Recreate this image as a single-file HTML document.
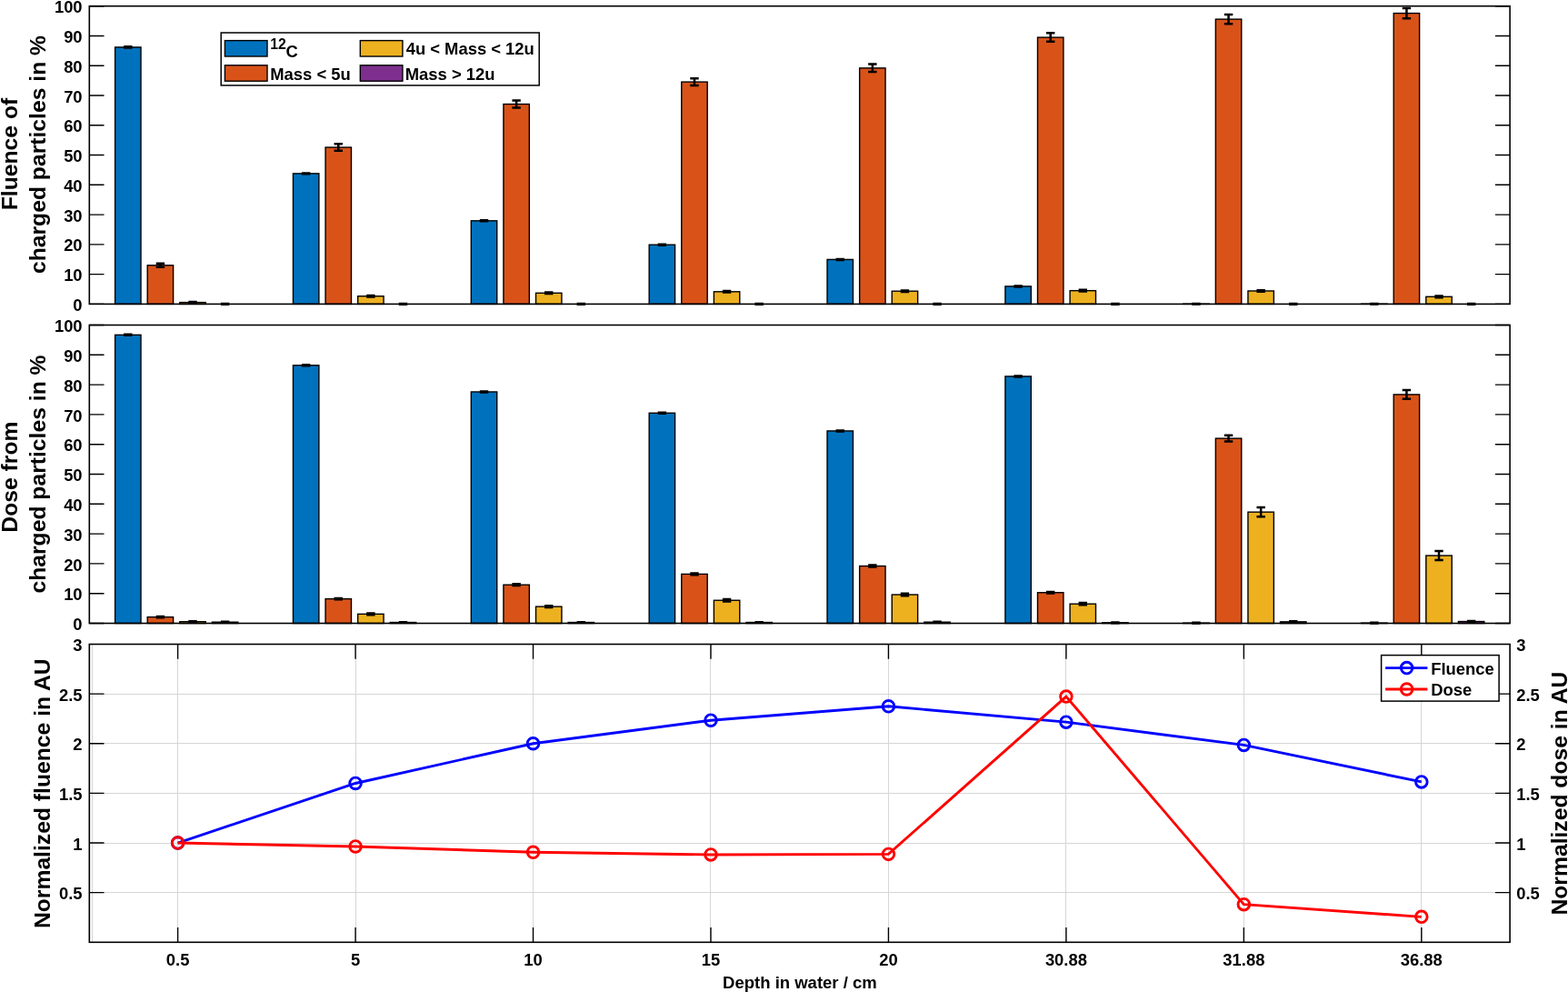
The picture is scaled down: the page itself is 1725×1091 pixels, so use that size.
<!DOCTYPE html>
<html><head><meta charset="utf-8"><title>Charged particle fluence and dose</title>
<style>html,body{margin:0;padding:0;background:#fff}svg{display:block}</style></head>
<body>
<svg width="1725" height="1091" viewBox="0 0 1725 1091">
<style>text{font-family:"Liberation Sans", Arial, Helvetica, sans-serif;font-weight:bold;fill:#000} .t{font-size:18.4px} .l{font-size:24.7px}</style>
<rect width="1725" height="1091" fill="#fff"/>
<rect x="126.60" y="51.92" width="28.40" height="282.48" fill="#0072BD" stroke="#000" stroke-width="1.4"/>
<rect x="162.20" y="291.80" width="28.40" height="42.60" fill="#D95319" stroke="#000" stroke-width="1.4"/>
<rect x="197.80" y="332.60" width="28.40" height="1.80" fill="#EDB120" stroke="#000" stroke-width="1.4"/>
<rect x="233.40" y="334.40" width="28.40" height="0.00" fill="#7E2F8E" stroke="#000" stroke-width="1.4"/>
<rect x="322.46" y="190.87" width="28.40" height="143.53" fill="#0072BD" stroke="#000" stroke-width="1.4"/>
<rect x="358.06" y="162.03" width="28.40" height="172.37" fill="#D95319" stroke="#000" stroke-width="1.4"/>
<rect x="393.66" y="325.72" width="28.40" height="8.68" fill="#EDB120" stroke="#000" stroke-width="1.4"/>
<rect x="429.26" y="334.40" width="28.40" height="0.00" fill="#7E2F8E" stroke="#000" stroke-width="1.4"/>
<rect x="518.32" y="242.81" width="28.40" height="91.59" fill="#0072BD" stroke="#000" stroke-width="1.4"/>
<rect x="553.92" y="114.51" width="28.40" height="219.89" fill="#D95319" stroke="#000" stroke-width="1.4"/>
<rect x="589.52" y="322.28" width="28.40" height="12.12" fill="#EDB120" stroke="#000" stroke-width="1.4"/>
<rect x="625.12" y="334.40" width="28.40" height="0.00" fill="#7E2F8E" stroke="#000" stroke-width="1.4"/>
<rect x="714.18" y="269.19" width="28.40" height="65.21" fill="#0072BD" stroke="#000" stroke-width="1.4"/>
<rect x="749.78" y="90.10" width="28.40" height="244.30" fill="#D95319" stroke="#000" stroke-width="1.4"/>
<rect x="785.38" y="320.80" width="28.40" height="13.60" fill="#EDB120" stroke="#000" stroke-width="1.4"/>
<rect x="820.98" y="334.40" width="28.40" height="0.00" fill="#7E2F8E" stroke="#000" stroke-width="1.4"/>
<rect x="910.04" y="285.41" width="28.40" height="48.99" fill="#0072BD" stroke="#000" stroke-width="1.4"/>
<rect x="945.64" y="74.86" width="28.40" height="259.54" fill="#D95319" stroke="#000" stroke-width="1.4"/>
<rect x="981.24" y="320.21" width="28.40" height="14.19" fill="#EDB120" stroke="#000" stroke-width="1.4"/>
<rect x="1016.84" y="334.40" width="28.40" height="0.00" fill="#7E2F8E" stroke="#000" stroke-width="1.4"/>
<rect x="1105.90" y="314.90" width="28.40" height="19.50" fill="#0072BD" stroke="#000" stroke-width="1.4"/>
<rect x="1141.50" y="41.11" width="28.40" height="293.29" fill="#D95319" stroke="#000" stroke-width="1.4"/>
<rect x="1177.10" y="319.65" width="28.40" height="14.75" fill="#EDB120" stroke="#000" stroke-width="1.4"/>
<rect x="1212.70" y="334.40" width="28.40" height="0.00" fill="#7E2F8E" stroke="#000" stroke-width="1.4"/>
<rect x="1301.76" y="334.24" width="28.40" height="0.16" fill="#0072BD" stroke="#000" stroke-width="1.4"/>
<rect x="1337.36" y="21.12" width="28.40" height="313.28" fill="#D95319" stroke="#000" stroke-width="1.4"/>
<rect x="1372.96" y="319.98" width="28.40" height="14.42" fill="#EDB120" stroke="#000" stroke-width="1.4"/>
<rect x="1408.56" y="334.40" width="28.40" height="0.00" fill="#7E2F8E" stroke="#000" stroke-width="1.4"/>
<rect x="1497.62" y="334.24" width="28.40" height="0.16" fill="#0072BD" stroke="#000" stroke-width="1.4"/>
<rect x="1533.22" y="14.56" width="28.40" height="319.84" fill="#D95319" stroke="#000" stroke-width="1.4"/>
<rect x="1568.82" y="326.31" width="28.40" height="8.09" fill="#EDB120" stroke="#000" stroke-width="1.4"/>
<rect x="1604.42" y="334.40" width="28.40" height="0.00" fill="#7E2F8E" stroke="#000" stroke-width="1.4"/>
<path d="M140.80 52.58V51.27M136.10 52.58H145.50M136.10 51.27H145.50" stroke="#000" stroke-width="2.5" fill="none"/>
<path d="M176.40 293.77V289.83M171.70 293.77H181.10M171.70 289.83H181.10" stroke="#000" stroke-width="2.5" fill="none"/>
<path d="M212.00 333.09V332.11M207.30 333.09H216.70M207.30 332.11H216.70" stroke="#000" stroke-width="2.5" fill="none"/>
<path d="M247.60 334.73V334.07M242.90 334.73H252.30M242.90 334.07H252.30" stroke="#000" stroke-width="2.5" fill="none"/>
<path d="M336.66 191.36V190.38M331.96 191.36H341.36M331.96 190.38H341.36" stroke="#000" stroke-width="2.5" fill="none"/>
<path d="M372.26 165.80V158.26M367.56 165.80H376.96M367.56 158.26H376.96" stroke="#000" stroke-width="2.5" fill="none"/>
<path d="M407.86 326.54V324.90M403.16 326.54H412.56M403.16 324.90H412.56" stroke="#000" stroke-width="2.5" fill="none"/>
<path d="M443.46 334.73V334.07M438.76 334.73H448.16M438.76 334.07H448.16" stroke="#000" stroke-width="2.5" fill="none"/>
<path d="M532.52 243.30V242.32M527.82 243.30H537.22M527.82 242.32H537.22" stroke="#000" stroke-width="2.5" fill="none"/>
<path d="M568.12 118.45V110.58M563.42 118.45H572.82M563.42 110.58H572.82" stroke="#000" stroke-width="2.5" fill="none"/>
<path d="M603.72 323.09V321.46M599.02 323.09H608.42M599.02 321.46H608.42" stroke="#000" stroke-width="2.5" fill="none"/>
<path d="M639.32 334.73V334.07M634.62 334.73H644.02M634.62 334.07H644.02" stroke="#000" stroke-width="2.5" fill="none"/>
<path d="M728.38 269.68V268.70M723.68 269.68H733.08M723.68 268.70H733.08" stroke="#000" stroke-width="2.5" fill="none"/>
<path d="M763.98 94.03V86.17M759.28 94.03H768.68M759.28 86.17H768.68" stroke="#000" stroke-width="2.5" fill="none"/>
<path d="M799.58 321.62V319.98M794.88 321.62H804.28M794.88 319.98H804.28" stroke="#000" stroke-width="2.5" fill="none"/>
<path d="M835.18 334.73V334.07M830.48 334.73H839.88M830.48 334.07H839.88" stroke="#000" stroke-width="2.5" fill="none"/>
<path d="M924.24 285.90V284.92M919.54 285.90H928.94M919.54 284.92H928.94" stroke="#000" stroke-width="2.5" fill="none"/>
<path d="M959.84 79.12V70.60M955.14 79.12H964.54M955.14 70.60H964.54" stroke="#000" stroke-width="2.5" fill="none"/>
<path d="M995.44 321.03V319.39M990.74 321.03H1000.14M990.74 319.39H1000.14" stroke="#000" stroke-width="2.5" fill="none"/>
<path d="M1031.04 334.73V334.07M1026.34 334.73H1035.74M1026.34 334.07H1035.74" stroke="#000" stroke-width="2.5" fill="none"/>
<path d="M1120.10 315.39V314.41M1115.40 315.39H1124.80M1115.40 314.41H1124.80" stroke="#000" stroke-width="2.5" fill="none"/>
<path d="M1155.70 45.86V36.36M1151.00 45.86H1160.40M1151.00 36.36H1160.40" stroke="#000" stroke-width="2.5" fill="none"/>
<path d="M1191.30 320.47V318.83M1186.60 320.47H1196.00M1186.60 318.83H1196.00" stroke="#000" stroke-width="2.5" fill="none"/>
<path d="M1226.90 334.73V334.07M1222.20 334.73H1231.60M1222.20 334.07H1231.60" stroke="#000" stroke-width="2.5" fill="none"/>
<path d="M1315.96 334.56V333.91M1311.26 334.56H1320.66M1311.26 333.91H1320.66" stroke="#000" stroke-width="2.5" fill="none"/>
<path d="M1351.56 26.20V16.04M1346.86 26.20H1356.26M1346.86 16.04H1356.26" stroke="#000" stroke-width="2.5" fill="none"/>
<path d="M1387.16 320.80V319.16M1382.46 320.80H1391.86M1382.46 319.16H1391.86" stroke="#000" stroke-width="2.5" fill="none"/>
<path d="M1422.76 334.73V334.07M1418.06 334.73H1427.46M1418.06 334.07H1427.46" stroke="#000" stroke-width="2.5" fill="none"/>
<path d="M1511.82 334.56V333.91M1507.12 334.56H1516.52M1507.12 333.91H1516.52" stroke="#000" stroke-width="2.5" fill="none"/>
<path d="M1547.42 20.17V8.96M1542.72 20.17H1552.12M1542.72 8.96H1552.12" stroke="#000" stroke-width="2.5" fill="none"/>
<path d="M1583.02 327.13V325.49M1578.32 327.13H1587.72M1578.32 325.49H1587.72" stroke="#000" stroke-width="2.5" fill="none"/>
<path d="M1618.62 334.73V334.07M1613.92 334.73H1623.32M1613.92 334.07H1623.32" stroke="#000" stroke-width="2.5" fill="none"/>
<path d="M98.30 334.40h16.2M1661.10 334.40h-16.2M98.30 301.63h16.2M1661.10 301.63h-16.2M98.30 268.86h16.2M1661.10 268.86h-16.2M98.30 236.09h16.2M1661.10 236.09h-16.2M98.30 203.32h16.2M1661.10 203.32h-16.2M98.30 170.55h16.2M1661.10 170.55h-16.2M98.30 137.78h16.2M1661.10 137.78h-16.2M98.30 105.01h16.2M1661.10 105.01h-16.2M98.30 72.24h16.2M1661.10 72.24h-16.2M98.30 39.47h16.2M1661.10 39.47h-16.2M98.30 6.70h16.2M1661.10 6.70h-16.2" stroke="#000" stroke-width="1.4" fill="none"/>
<rect x="98.3" y="6.7" width="1562.80" height="327.70" fill="none" stroke="#000" stroke-width="1.6"/>
<text x="90.6" y="342.00" text-anchor="end" class="t">0</text>
<text x="90.6" y="309.23" text-anchor="end" class="t">10</text>
<text x="90.6" y="276.46" text-anchor="end" class="t">20</text>
<text x="90.6" y="243.69" text-anchor="end" class="t">30</text>
<text x="90.6" y="210.92" text-anchor="end" class="t">40</text>
<text x="90.6" y="178.15" text-anchor="end" class="t">50</text>
<text x="90.6" y="145.38" text-anchor="end" class="t">60</text>
<text x="90.6" y="112.61" text-anchor="end" class="t">70</text>
<text x="90.6" y="79.84" text-anchor="end" class="t">80</text>
<text x="90.6" y="47.07" text-anchor="end" class="t">90</text>
<text x="90.6" y="14.30" text-anchor="end" class="t">100</text>
<rect x="126.60" y="368.32" width="28.40" height="317.18" fill="#0072BD" stroke="#000" stroke-width="1.4"/>
<rect x="162.20" y="678.61" width="28.40" height="6.89" fill="#D95319" stroke="#000" stroke-width="1.4"/>
<rect x="197.80" y="683.70" width="28.40" height="1.80" fill="#EDB120" stroke="#000" stroke-width="1.4"/>
<rect x="233.40" y="684.19" width="28.40" height="1.31" fill="#7E2F8E" stroke="#000" stroke-width="1.4"/>
<rect x="322.46" y="401.78" width="28.40" height="283.72" fill="#0072BD" stroke="#000" stroke-width="1.4"/>
<rect x="358.06" y="658.60" width="28.40" height="26.90" fill="#D95319" stroke="#000" stroke-width="1.4"/>
<rect x="393.66" y="675.33" width="28.40" height="10.17" fill="#EDB120" stroke="#000" stroke-width="1.4"/>
<rect x="429.26" y="684.52" width="28.40" height="0.98" fill="#7E2F8E" stroke="#000" stroke-width="1.4"/>
<rect x="518.32" y="430.97" width="28.40" height="254.53" fill="#0072BD" stroke="#000" stroke-width="1.4"/>
<rect x="553.92" y="643.19" width="28.40" height="42.31" fill="#D95319" stroke="#000" stroke-width="1.4"/>
<rect x="589.52" y="667.13" width="28.40" height="18.37" fill="#EDB120" stroke="#000" stroke-width="1.4"/>
<rect x="625.12" y="684.52" width="28.40" height="0.98" fill="#7E2F8E" stroke="#000" stroke-width="1.4"/>
<rect x="714.18" y="454.26" width="28.40" height="231.24" fill="#0072BD" stroke="#000" stroke-width="1.4"/>
<rect x="749.78" y="631.38" width="28.40" height="54.12" fill="#D95319" stroke="#000" stroke-width="1.4"/>
<rect x="785.38" y="660.24" width="28.40" height="25.26" fill="#EDB120" stroke="#000" stroke-width="1.4"/>
<rect x="820.98" y="684.52" width="28.40" height="0.98" fill="#7E2F8E" stroke="#000" stroke-width="1.4"/>
<rect x="910.04" y="473.94" width="28.40" height="211.56" fill="#0072BD" stroke="#000" stroke-width="1.4"/>
<rect x="945.64" y="622.52" width="28.40" height="62.98" fill="#D95319" stroke="#000" stroke-width="1.4"/>
<rect x="981.24" y="654.01" width="28.40" height="31.49" fill="#EDB120" stroke="#000" stroke-width="1.4"/>
<rect x="1016.84" y="684.19" width="28.40" height="1.31" fill="#7E2F8E" stroke="#000" stroke-width="1.4"/>
<rect x="1105.90" y="413.92" width="28.40" height="271.58" fill="#0072BD" stroke="#000" stroke-width="1.4"/>
<rect x="1141.50" y="651.72" width="28.40" height="33.78" fill="#D95319" stroke="#000" stroke-width="1.4"/>
<rect x="1177.10" y="664.18" width="28.40" height="21.32" fill="#EDB120" stroke="#000" stroke-width="1.4"/>
<rect x="1212.70" y="684.84" width="28.40" height="0.66" fill="#7E2F8E" stroke="#000" stroke-width="1.4"/>
<rect x="1301.76" y="685.17" width="28.40" height="0.33" fill="#0072BD" stroke="#000" stroke-width="1.4"/>
<rect x="1337.36" y="482.14" width="28.40" height="203.36" fill="#D95319" stroke="#000" stroke-width="1.4"/>
<rect x="1372.96" y="563.16" width="28.40" height="122.34" fill="#EDB120" stroke="#000" stroke-width="1.4"/>
<rect x="1408.56" y="683.86" width="28.40" height="1.64" fill="#7E2F8E" stroke="#000" stroke-width="1.4"/>
<rect x="1497.62" y="685.17" width="28.40" height="0.33" fill="#0072BD" stroke="#000" stroke-width="1.4"/>
<rect x="1533.22" y="433.92" width="28.40" height="251.58" fill="#D95319" stroke="#000" stroke-width="1.4"/>
<rect x="1568.82" y="611.04" width="28.40" height="74.46" fill="#EDB120" stroke="#000" stroke-width="1.4"/>
<rect x="1604.42" y="683.53" width="28.40" height="1.97" fill="#7E2F8E" stroke="#000" stroke-width="1.4"/>
<path d="M140.80 368.82V367.83M136.10 368.82H145.50M136.10 367.83H145.50" stroke="#000" stroke-width="2.5" fill="none"/>
<path d="M176.40 679.27V677.96M171.70 679.27H181.10M171.70 677.96H181.10" stroke="#000" stroke-width="2.5" fill="none"/>
<path d="M212.00 684.19V683.20M207.30 684.19H216.70M207.30 683.20H216.70" stroke="#000" stroke-width="2.5" fill="none"/>
<path d="M247.60 684.52V683.86M242.90 684.52H252.30M242.90 683.86H252.30" stroke="#000" stroke-width="2.5" fill="none"/>
<path d="M336.66 402.27V401.29M331.96 402.27H341.36M331.96 401.29H341.36" stroke="#000" stroke-width="2.5" fill="none"/>
<path d="M372.26 659.26V657.95M367.56 659.26H376.96M367.56 657.95H376.96" stroke="#000" stroke-width="2.5" fill="none"/>
<path d="M407.86 676.15V674.51M403.16 676.15H412.56M403.16 674.51H412.56" stroke="#000" stroke-width="2.5" fill="none"/>
<path d="M443.46 684.84V684.19M438.76 684.84H448.16M438.76 684.19H448.16" stroke="#000" stroke-width="2.5" fill="none"/>
<path d="M532.52 431.46V430.48M527.82 431.46H537.22M527.82 430.48H537.22" stroke="#000" stroke-width="2.5" fill="none"/>
<path d="M568.12 644.01V642.37M563.42 644.01H572.82M563.42 642.37H572.82" stroke="#000" stroke-width="2.5" fill="none"/>
<path d="M603.72 668.12V666.15M599.02 668.12H608.42M599.02 666.15H608.42" stroke="#000" stroke-width="2.5" fill="none"/>
<path d="M639.32 684.84V684.19M634.62 684.84H644.02M634.62 684.19H644.02" stroke="#000" stroke-width="2.5" fill="none"/>
<path d="M728.38 454.75V453.77M723.68 454.75H733.08M723.68 453.77H733.08" stroke="#000" stroke-width="2.5" fill="none"/>
<path d="M763.98 632.36V630.40M759.28 632.36H768.68M759.28 630.40H768.68" stroke="#000" stroke-width="2.5" fill="none"/>
<path d="M799.58 661.39V659.10M794.88 661.39H804.28M794.88 659.10H804.28" stroke="#000" stroke-width="2.5" fill="none"/>
<path d="M835.18 684.84V684.19M830.48 684.84H839.88M830.48 684.19H839.88" stroke="#000" stroke-width="2.5" fill="none"/>
<path d="M924.24 474.43V473.45M919.54 474.43H928.94M919.54 473.45H928.94" stroke="#000" stroke-width="2.5" fill="none"/>
<path d="M959.84 623.51V621.54M955.14 623.51H964.54M955.14 621.54H964.54" stroke="#000" stroke-width="2.5" fill="none"/>
<path d="M995.44 655.32V652.70M990.74 655.32H1000.14M990.74 652.70H1000.14" stroke="#000" stroke-width="2.5" fill="none"/>
<path d="M1031.04 684.52V683.86M1026.34 684.52H1035.74M1026.34 683.86H1035.74" stroke="#000" stroke-width="2.5" fill="none"/>
<path d="M1120.10 414.41V413.42M1115.40 414.41H1124.80M1115.40 413.42H1124.80" stroke="#000" stroke-width="2.5" fill="none"/>
<path d="M1155.70 652.54V650.90M1151.00 652.54H1160.40M1151.00 650.90H1160.40" stroke="#000" stroke-width="2.5" fill="none"/>
<path d="M1191.30 665.33V663.03M1186.60 665.33H1196.00M1186.60 663.03H1196.00" stroke="#000" stroke-width="2.5" fill="none"/>
<path d="M1226.90 685.17V684.52M1222.20 685.17H1231.60M1222.20 684.52H1231.60" stroke="#000" stroke-width="2.5" fill="none"/>
<path d="M1315.96 685.50V684.84M1311.26 685.50H1320.66M1311.26 684.84H1320.66" stroke="#000" stroke-width="2.5" fill="none"/>
<path d="M1351.56 485.42V478.86M1346.86 485.42H1356.26M1346.86 478.86H1356.26" stroke="#000" stroke-width="2.5" fill="none"/>
<path d="M1387.16 568.24V558.07M1382.46 568.24H1391.86M1382.46 558.07H1391.86" stroke="#000" stroke-width="2.5" fill="none"/>
<path d="M1422.76 684.35V683.37M1418.06 684.35H1427.46M1418.06 683.37H1427.46" stroke="#000" stroke-width="2.5" fill="none"/>
<path d="M1511.82 685.50V684.84M1507.12 685.50H1516.52M1507.12 684.84H1516.52" stroke="#000" stroke-width="2.5" fill="none"/>
<path d="M1547.42 438.84V429.00M1542.72 438.84H1552.12M1542.72 429.00H1552.12" stroke="#000" stroke-width="2.5" fill="none"/>
<path d="M1583.02 615.96V606.12M1578.32 615.96H1587.72M1578.32 606.12H1587.72" stroke="#000" stroke-width="2.5" fill="none"/>
<path d="M1618.62 684.02V683.04M1613.92 684.02H1623.32M1613.92 683.04H1623.32" stroke="#000" stroke-width="2.5" fill="none"/>
<path d="M98.30 685.50h16.2M1661.10 685.50h-16.2M98.30 652.70h16.2M1661.10 652.70h-16.2M98.30 619.90h16.2M1661.10 619.90h-16.2M98.30 587.10h16.2M1661.10 587.10h-16.2M98.30 554.30h16.2M1661.10 554.30h-16.2M98.30 521.50h16.2M1661.10 521.50h-16.2M98.30 488.70h16.2M1661.10 488.70h-16.2M98.30 455.90h16.2M1661.10 455.90h-16.2M98.30 423.10h16.2M1661.10 423.10h-16.2M98.30 390.30h16.2M1661.10 390.30h-16.2M98.30 357.50h16.2M1661.10 357.50h-16.2" stroke="#000" stroke-width="1.4" fill="none"/>
<rect x="98.3" y="357.5" width="1562.80" height="328.00" fill="none" stroke="#000" stroke-width="1.6"/>
<text x="90.6" y="693.10" text-anchor="end" class="t">0</text>
<text x="90.6" y="660.30" text-anchor="end" class="t">10</text>
<text x="90.6" y="627.50" text-anchor="end" class="t">20</text>
<text x="90.6" y="594.70" text-anchor="end" class="t">30</text>
<text x="90.6" y="561.90" text-anchor="end" class="t">40</text>
<text x="90.6" y="529.10" text-anchor="end" class="t">50</text>
<text x="90.6" y="496.30" text-anchor="end" class="t">60</text>
<text x="90.6" y="463.50" text-anchor="end" class="t">70</text>
<text x="90.6" y="430.70" text-anchor="end" class="t">80</text>
<text x="90.6" y="397.90" text-anchor="end" class="t">90</text>
<text x="90.6" y="365.10" text-anchor="end" class="t">100</text>
<rect x="243.2" y="36.0" width="350.0" height="57.9" fill="#fff" stroke="#000" stroke-width="1.5"/>
<rect x="247.4" y="44.6" width="46.6" height="17.4" fill="#0072BD" stroke="#000" stroke-width="1.4"/>
<rect x="247.4" y="71.8" width="46.6" height="17.4" fill="#D95319" stroke="#000" stroke-width="1.4"/>
<rect x="396.3" y="44.6" width="46.6" height="17.4" fill="#EDB120" stroke="#000" stroke-width="1.4"/>
<rect x="396.3" y="71.8" width="46.6" height="17.4" fill="#7E2F8E" stroke="#000" stroke-width="1.4"/>
<text x="297.2" y="54.4" class="t" style="font-size:15.8px">12</text>
<text x="314.4" y="63.4" class="t">C</text>
<text x="297.3" y="87.5" class="t">Mass &lt; 5u</text>
<text x="446.7" y="60.0" class="t">4u &lt; Mass &lt; 12u</text>
<text x="445.8" y="87.5" class="t">Mass &gt; 12u</text>
<path d="M195.50 708.50V1036.30M391.50 708.50V1036.30M586.50 708.50V1036.30M781.50 708.50V1036.30M977.50 708.50V1036.30M1172.50 708.50V1036.30M1368.50 708.50V1036.30M1563.50 708.50V1036.30M101.5 708.50V1036.30M98.30 981.50H1661.10M98.30 927.50H1661.10M98.30 872.50H1661.10M98.30 817.50H1661.10M98.30 763.50H1661.10" stroke="#D6D6D6" stroke-width="1" fill="none" shape-rendering="crispEdges"/>
<polyline points="195.60,927.03 391.06,861.47 586.52,817.77 781.98,792.20 977.44,776.79 1172.90,794.17 1368.36,819.41 1563.82,859.94" fill="none" stroke="#0000FF" stroke-width="2.9" stroke-linejoin="miter"/>
<circle cx="195.60" cy="927.03" r="6.3" fill="none" stroke="#0000FF" stroke-width="2.9"/>
<circle cx="391.06" cy="861.47" r="6.3" fill="none" stroke="#0000FF" stroke-width="2.9"/>
<circle cx="586.52" cy="817.77" r="6.3" fill="none" stroke="#0000FF" stroke-width="2.9"/>
<circle cx="781.98" cy="792.20" r="6.3" fill="none" stroke="#0000FF" stroke-width="2.9"/>
<circle cx="977.44" cy="776.79" r="6.3" fill="none" stroke="#0000FF" stroke-width="2.9"/>
<circle cx="1172.90" cy="794.17" r="6.3" fill="none" stroke="#0000FF" stroke-width="2.9"/>
<circle cx="1368.36" cy="819.41" r="6.3" fill="none" stroke="#0000FF" stroke-width="2.9"/>
<circle cx="1563.82" cy="859.94" r="6.3" fill="none" stroke="#0000FF" stroke-width="2.9"/>
<polyline points="195.60,927.03 391.06,930.97 586.52,937.30 781.98,939.93 977.44,939.38 1172.90,766.08 1368.36,994.67 1563.82,1008.33" fill="none" stroke="#FF0000" stroke-width="2.9" stroke-linejoin="miter"/>
<circle cx="195.60" cy="927.03" r="6.3" fill="none" stroke="#FF0000" stroke-width="2.9"/>
<circle cx="391.06" cy="930.97" r="6.3" fill="none" stroke="#FF0000" stroke-width="2.9"/>
<circle cx="586.52" cy="937.30" r="6.3" fill="none" stroke="#FF0000" stroke-width="2.9"/>
<circle cx="781.98" cy="939.93" r="6.3" fill="none" stroke="#FF0000" stroke-width="2.9"/>
<circle cx="977.44" cy="939.38" r="6.3" fill="none" stroke="#FF0000" stroke-width="2.9"/>
<circle cx="1172.90" cy="766.08" r="6.3" fill="none" stroke="#FF0000" stroke-width="2.9"/>
<circle cx="1368.36" cy="994.67" r="6.3" fill="none" stroke="#FF0000" stroke-width="2.9"/>
<circle cx="1563.82" cy="1008.33" r="6.3" fill="none" stroke="#FF0000" stroke-width="2.9"/>
<path d="M195.60 1036.30v-16.2M195.60 708.50v16.2M391.06 1036.30v-16.2M391.06 708.50v16.2M586.52 1036.30v-16.2M586.52 708.50v16.2M781.98 1036.30v-16.2M781.98 708.50v16.2M977.44 1036.30v-16.2M977.44 708.50v16.2M1172.90 1036.30v-16.2M1172.90 708.50v16.2M1368.36 1036.30v-16.2M1368.36 708.50v16.2M1563.82 1036.30v-16.2M1563.82 708.50v16.2M98.30 981.67h16.2M1661.10 981.67h-16.2M98.30 927.03h16.2M1661.10 927.03h-16.2M98.30 872.40h16.2M1661.10 872.40h-16.2M98.30 817.77h16.2M1661.10 817.77h-16.2M98.30 763.13h16.2M1661.10 763.13h-16.2" stroke="#000" stroke-width="1.4" fill="none"/>
<rect x="98.3" y="708.5" width="1562.80" height="327.80" fill="none" stroke="#000" stroke-width="1.6"/>
<text x="90.6" y="989.27" text-anchor="end" class="t">0.5</text>
<text x="1668.2" y="989.27" class="t">0.5</text>
<text x="90.6" y="934.63" text-anchor="end" class="t">1</text>
<text x="1668.2" y="934.63" class="t">1</text>
<text x="90.6" y="880.00" text-anchor="end" class="t">1.5</text>
<text x="1668.2" y="880.00" class="t">1.5</text>
<text x="90.6" y="825.37" text-anchor="end" class="t">2</text>
<text x="1668.2" y="825.37" class="t">2</text>
<text x="90.6" y="770.73" text-anchor="end" class="t">2.5</text>
<text x="1668.2" y="770.73" class="t">2.5</text>
<text x="90.6" y="716.10" text-anchor="end" class="t">3</text>
<text x="1668.2" y="716.10" class="t">3</text>
<text x="195.60" y="1062.2" text-anchor="middle" class="t">0.5</text>
<text x="391.06" y="1062.2" text-anchor="middle" class="t">5</text>
<text x="586.52" y="1062.2" text-anchor="middle" class="t">10</text>
<text x="781.98" y="1062.2" text-anchor="middle" class="t">15</text>
<text x="977.44" y="1062.2" text-anchor="middle" class="t">20</text>
<text x="1172.90" y="1062.2" text-anchor="middle" class="t">30.88</text>
<text x="1368.36" y="1062.2" text-anchor="middle" class="t">31.88</text>
<text x="1563.82" y="1062.2" text-anchor="middle" class="t">36.88</text>
<text x="879.9" y="1087.0" text-anchor="middle" class="t" style="font-size:18.5px">Depth in water / cm</text>
<rect x="1519.6" y="720.6" width="129.5" height="50.5" fill="#fff" stroke="#000" stroke-width="1.5"/>
<path d="M1524.1 734.6H1570.4" stroke="#0000FF" stroke-width="2.9"/>
<circle cx="1547.6" cy="734.6" r="6.3" fill="none" stroke="#0000FF" stroke-width="2.9"/>
<path d="M1524.1 758.0H1570.4" stroke="#FF0000" stroke-width="2.9"/>
<circle cx="1547.6" cy="758.0" r="6.3" fill="none" stroke="#FF0000" stroke-width="2.9"/>
<text x="1574.2" y="741.5" class="t">Fluence</text>
<text x="1574.2" y="764.8" class="t">Dose</text>
<text transform="translate(18.60 169.50) rotate(-90)" text-anchor="middle" class="l">Fluence of</text>
<text transform="translate(49.80 170.00) rotate(-90)" text-anchor="middle" class="l">charged particles in %</text>
<text transform="translate(18.60 524.60) rotate(-90)" text-anchor="middle" class="l">Dose from</text>
<text transform="translate(49.80 521.50) rotate(-90)" text-anchor="middle" class="l">charged particles in %</text>
<text transform="translate(55.20 872.70) rotate(-90)" text-anchor="middle" class="l">Normalized fluence in AU</text>
<text transform="translate(1724.40 872.60) rotate(-90)" text-anchor="middle" class="l">Normalized dose in AU</text>
</svg>
</body></html>
